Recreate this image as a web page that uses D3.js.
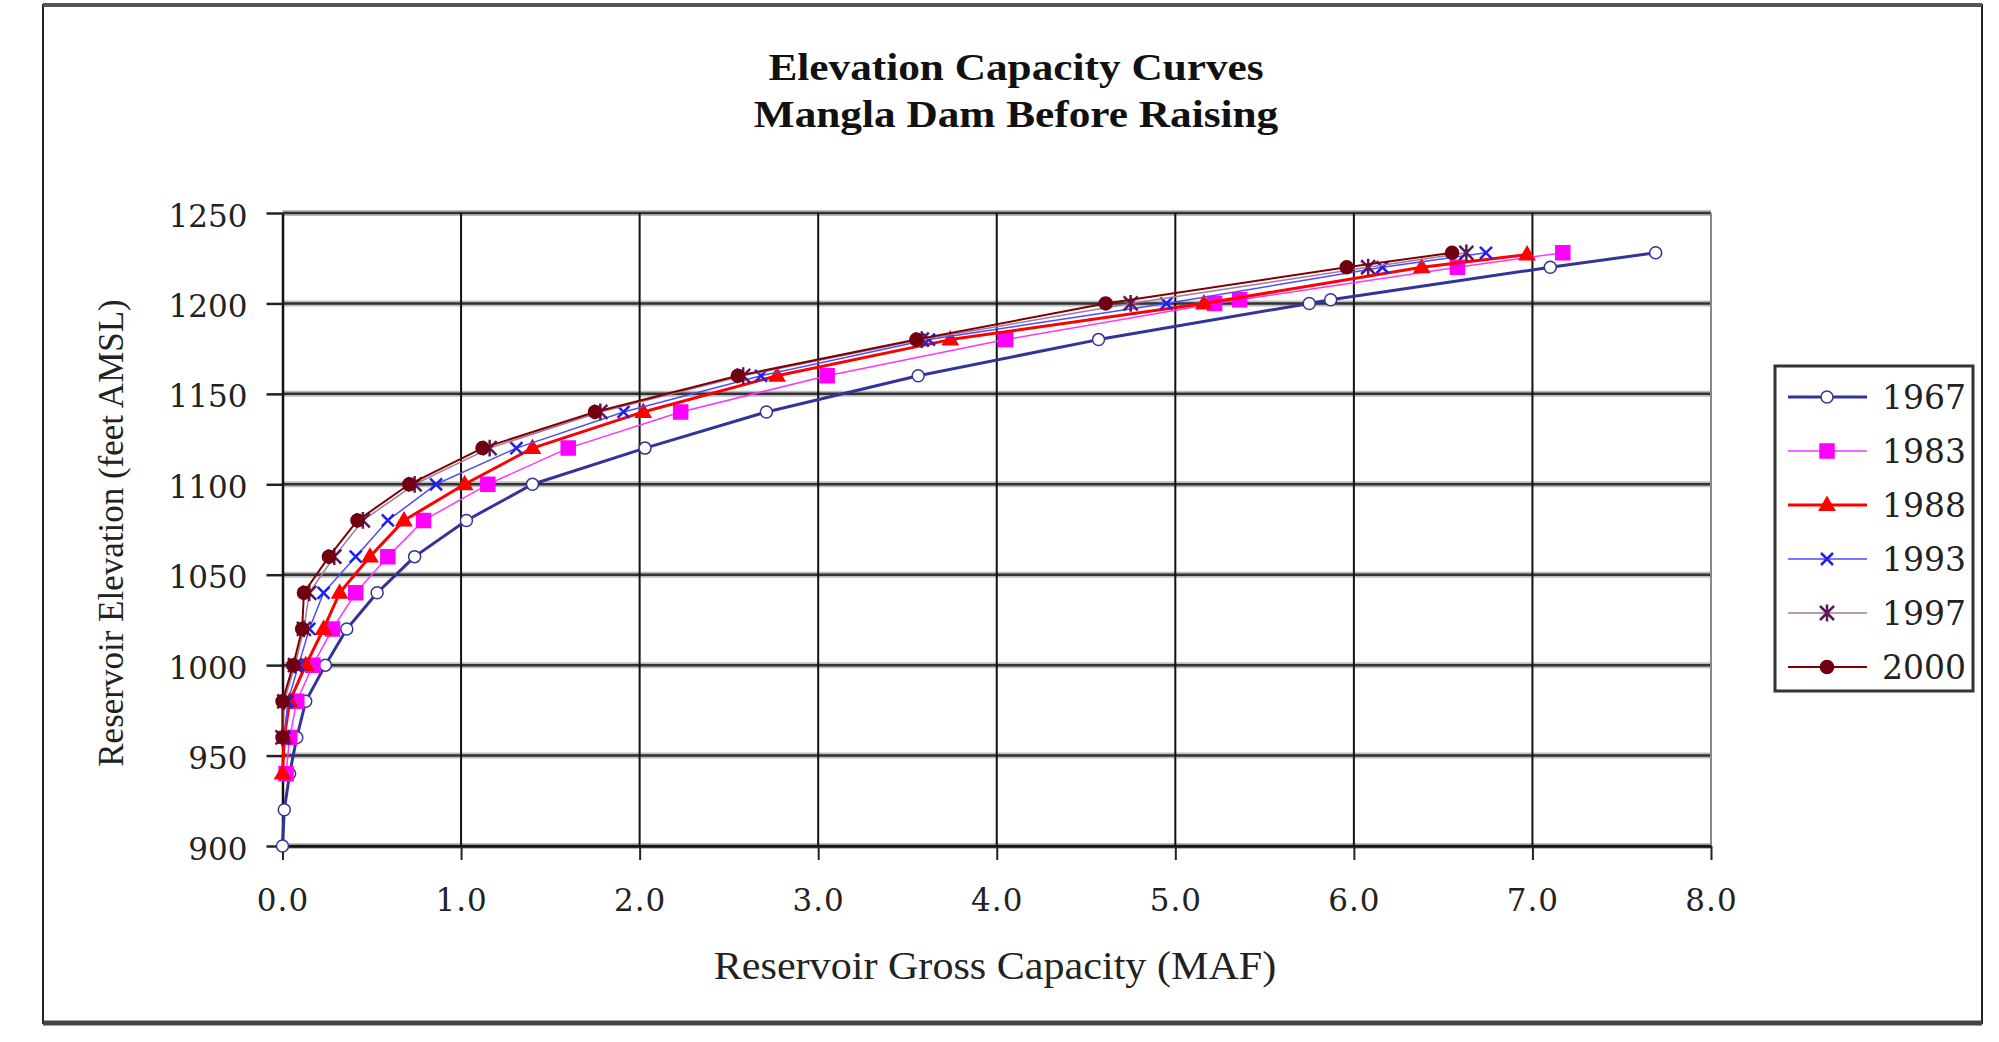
<!DOCTYPE html>
<html>
<head>
<meta charset="utf-8">
<script src="https://cdn.jsdelivr.net/npm/d3@7"></script>
<style>
  body { margin: 0; background: #fff; }
  svg { display: block; }
</style>
</head>
<body>
<div class="wrapper"></div>
<script>
// survey years (legend order)
var years = ["1967", "1983", "1988", "1993", "1997", "2000"];

// elevation (feet AMSL) and gross capacity (MAF)
var elev1967 = [900, 920, 940, 960, 980, 1000, 1020, 1040, 1060, 1080, 1100, 1120, 1140, 1160, 1180, 1200, 1202, 1220, 1228];
var cap1967  = [0.00, 0.01, 0.04, 0.08, 0.13, 0.24, 0.36, 0.53, 0.74, 1.03, 1.40, 2.03, 2.71, 3.56, 4.57, 5.75, 5.87, 7.10, 7.69];

var elev1983 = [940, 960, 980, 1000, 1020, 1040, 1060, 1080, 1100, 1120, 1140, 1160, 1180, 1200, 1202, 1220, 1228];
var cap1983  = [0.02, 0.04, 0.08, 0.17, 0.28, 0.41, 0.59, 0.79, 1.15, 1.60, 2.23, 3.05, 4.05, 5.22, 5.36, 6.58, 7.17];

var elev1988 = [940, 960, 980, 1000, 1020, 1040, 1060, 1080, 1100, 1120, 1140, 1160, 1180, 1200, 1220, 1227];
var cap1988  = [0.00, 0.01, 0.04, 0.13, 0.23, 0.32, 0.49, 0.68, 1.02, 1.40, 2.02, 2.77, 3.74, 5.16, 6.38, 6.97];

var elev1993 = [960, 980, 1000, 1020, 1040, 1060, 1080, 1100, 1120, 1140, 1160, 1180, 1200, 1220, 1228];
var cap1993  = [0.01, 0.03, 0.09, 0.15, 0.23, 0.41, 0.59, 0.86, 1.31, 1.91, 2.68, 3.62, 4.95, 6.16, 6.74];

var elev1997 = [960, 980, 1000, 1020, 1040, 1060, 1080, 1100, 1120, 1140, 1160, 1180, 1200, 1220, 1228];
var cap1997  = [0.00, 0.01, 0.07, 0.12, 0.15, 0.29, 0.45, 0.74, 1.16, 1.78, 2.58, 3.58, 4.75, 6.08, 6.63];

var elev2000 = [960, 980, 1000, 1020, 1040, 1060, 1080, 1100, 1120, 1140, 1160, 1180, 1200, 1220, 1228];
var cap2000  = [0.00, 0.00, 0.06, 0.11, 0.12, 0.26, 0.42, 0.71, 1.12, 1.75, 2.55, 3.55, 4.61, 5.96, 6.55];

var xTicks = [0, 1, 2, 3, 4, 5, 6, 7, 8];
var yTicks = [900, 950, 1000, 1050, 1100, 1150, 1200, 1250];

var elevs = [elev1967, elev1983, elev1988, elev1993, elev1997, elev2000];
var caps = [cap1967, cap1983, cap1988, cap1993, cap1997, cap2000];

// look of each series
var styles = {
  "1967": {line: "#333399", width: 3, marker: "circle", fill: "#fff", stroke: "#333399", size: 6},
  "1983": {line: "#ff33ff", width: 1.5, marker: "square", fill: "#ff00ff", stroke: "#ff00ff", size: 7},
  "1988": {line: "#ff0000", width: 3, marker: "triangle", fill: "#ff0000", stroke: "#ff0000", size: 8},
  "1993": {line: "#4d4dff", width: 1.5, marker: "x", fill: "none", stroke: "#2020ee", size: 6},
  "1997": {line: "#a07aa0", width: 1.5, marker: "star", fill: "none", stroke: "#5a1a5a", size: 7},
  "2000": {line: "#800000", width: 2, marker: "dot", fill: "#700010", stroke: "#700010", size: 6.5}
};

var series = years.map(function(yr, i) {
  return {
    year: yr,
    points: elevs[i].map(function(e, j) { return {cap: caps[i][j], elev: e}; })
  };
});

var W = 1999, H = 1042;
var svg = d3.select(".wrapper").append("svg")
  .attr("width", W)
  .attr("height", H);

var x = d3.scaleLinear().domain([0, 8]).range([282.5, 1711]);
var y = d3.scaleLinear().domain([900, 1250]).range([846, 213]);

var serif = "'Liberation Serif', 'Times New Roman', serif";
var wide = "'DejaVu Serif', serif";

// outer frame
svg.append("rect")
  .attr("x", 43).attr("y", 5)
  .attr("width", 1939).attr("height", 1018)
  .attr("fill", "#fff")
  .attr("stroke", "#222")
  .attr("stroke-width", 2);
svg.append("line").attr("x1", 43).attr("x2", 1982).attr("y1", 5).attr("y2", 5)
  .attr("stroke", "#555").attr("stroke-width", 4);
svg.append("line").attr("x1", 43).attr("x2", 1982).attr("y1", 1023).attr("y2", 1023)
  .attr("stroke", "#444").attr("stroke-width", 5);

// title
function stretchText(parent, tx, ty, sx, txt) {
  return parent.append("text")
    .attr("transform", "translate(" + tx + "," + ty + ") scale(" + sx + ",1)")
    .attr("text-anchor", "middle")
    .text(txt);
}
var title = svg.append("g")
  .attr("font-family", serif)
  .attr("font-weight", "bold")
  .attr("font-size", 37)
  .attr("fill", "#111");
stretchText(title, 1016, 80, 1.17, "Elevation Capacity Curves");
stretchText(title, 1016, 127, 1.17, "Mangla Dam Before Raising");

// gridlines
var grid = svg.append("g");
grid.selectAll(".hgrid")
  .data(yTicks)
  .enter().append("line")
    .attr("class", "hgrid")
    .attr("x1", x(0)).attr("x2", x(8))
    .attr("y1", function(d) { return y(d); })
    .attr("y2", function(d) { return y(d); })
    .attr("stroke", "#bdbdbd")
    .attr("stroke-width", 6);
grid.selectAll(".hgrid2")
  .data(yTicks)
  .enter().append("line")
    .attr("class", "hgrid2")
    .attr("x1", x(0)).attr("x2", x(8))
    .attr("y1", function(d) { return y(d); })
    .attr("y2", function(d) { return y(d); })
    .attr("stroke", "#333")
    .attr("stroke-width", 2.5);
grid.selectAll(".vgrid")
  .data(xTicks.slice(1))
  .enter().append("line")
    .attr("class", "vgrid")
    .attr("x1", function(d) { return x(d); })
    .attr("x2", function(d) { return x(d); })
    .attr("y1", y(1250)).attr("y2", y(900))
    .attr("stroke", function(d) { return d == 8 ? "#888" : "#111"; })
    .attr("stroke-width", 2);

// axes
var yAxis = svg.append("g")
  .attr("transform", "translate(" + x(0) + ",0)")
  .call(d3.axisLeft(y).tickValues(yTicks).tickSize(16).tickPadding(19).tickSizeOuter(0).tickFormat(d3.format("d")));
yAxis.select(".domain").attr("stroke", "#111").attr("stroke-width", 2.5);
yAxis.selectAll(".tick line").attr("stroke", "#222").attr("stroke-width", 2.5);
yAxis.selectAll(".tick text")
  .attr("font-family", wide)
  .attr("font-size", 31)
  .attr("fill", "#222")
  .attr("dy", "0.42em");

var xAxis = svg.append("g")
  .attr("transform", "translate(0," + y(900) + ")")
  .call(d3.axisBottom(x).tickValues(xTicks).tickSize(14).tickPadding(29).tickSizeOuter(0).tickFormat(d3.format(".1f")));
xAxis.select(".domain").attr("stroke", "#111").attr("stroke-width", 2.5);
xAxis.selectAll(".tick line").attr("stroke", "#222").attr("stroke-width", 2);
xAxis.selectAll(".tick text")
  .attr("font-family", wide)
  .attr("font-size", 31)
  .attr("letter-spacing", 1)
  .attr("fill", "#222");

// axis titles
svg.append("text")
  .attr("transform", "translate(123,533) rotate(-90)")
  .attr("text-anchor", "middle")
  .attr("font-family", serif)
  .attr("font-size", 35)
  .attr("fill", "#222")
  .text("Reservoir Elevation (feet AMSL)");
stretchText(svg.append("g").attr("font-family", serif).attr("font-size", 39).attr("fill", "#222"),
  995, 979, 1.08, "Reservoir Gross Capacity (MAF)");

// marker shapes
function markerPath(kind, s) {
  if (kind == "circle" || kind == "dot") {
    return d3.symbol().type(d3.symbolCircle).size(Math.PI * s * s)();
  }
  if (kind == "square") {
    return "M" + (-s) + "," + (-s) + "H" + s + "V" + s + "H" + (-s) + "Z";
  }
  if (kind == "triangle") {
    return "M0," + (-s) + "L" + (s * 0.95) + "," + (s * 0.65) + "L" + (-s * 0.95) + "," + (s * 0.65) + "Z";
  }
  if (kind == "x") {
    return "M" + (-s) + "," + (-s) + "L" + s + "," + s + "M" + s + "," + (-s) + "L" + (-s) + "," + s;
  }
  // star: x with a vertical bar
  return "M" + (-s) + "," + (-s) + "L" + s + "," + s + "M" + s + "," + (-s) + "L" + (-s) + "," + s +
    "M0," + (-s * 1.2) + "V" + (s * 1.2);
}

var line = d3.line()
  .x(function(d) { return x(d.cap); })
  .y(function(d) { return y(d.elev); });

var plot = svg.append("g");
series.forEach(function(s) {
  var st = styles[s.year];
  var g = plot.append("g");
  g.append("path")
    .datum(s.points)
    .attr("d", line)
    .attr("fill", "none")
    .attr("stroke", st.line)
    .attr("stroke-width", st.width)
    .attr("stroke-linejoin", "round");
  g.selectAll("path.mk")
    .data(s.points)
    .enter().append("path")
      .attr("class", "mk")
      .attr("transform", function(d) { return "translate(" + x(d.cap) + "," + y(d.elev) + ")"; })
      .attr("d", markerPath(st.marker, st.size))
      .attr("fill", st.fill)
      .attr("stroke", st.stroke)
      .attr("stroke-width", st.fill == "none" ? 2.5 : 1.5);
});

// legend
var legend = svg.append("g");
legend.append("rect")
  .attr("x", 1775).attr("y", 366)
  .attr("width", 198).attr("height", 325)
  .attr("fill", "#fff")
  .attr("stroke", "#333")
  .attr("stroke-width", 3);

var item = legend.selectAll(".item")
  .data(years)
  .enter().append("g")
    .attr("class", "item")
    .attr("transform", function(d, i) { return "translate(0," + (397 + i * 54) + ")"; });
item.append("line")
  .attr("x1", 1788).attr("x2", 1867)
  .attr("stroke", function(d) { return styles[d].line; })
  .attr("stroke-width", function(d) { return styles[d].width; });
item.append("path")
  .attr("transform", "translate(1827,0)")
  .attr("d", function(d) { return markerPath(styles[d].marker, styles[d].size); })
  .attr("fill", function(d) { return styles[d].fill; })
  .attr("stroke", function(d) { return styles[d].stroke; })
  .attr("stroke-width", function(d) { return styles[d].fill == "none" ? 2.5 : 1.5; });
item.append("text")
  .attr("x", 1882)
  .attr("y", 12)
  .attr("font-family", wide)
  .attr("font-size", 33)
  .attr("fill", "#222")
  .text(function(d) { return d; });
</script>
</body>
</html>
